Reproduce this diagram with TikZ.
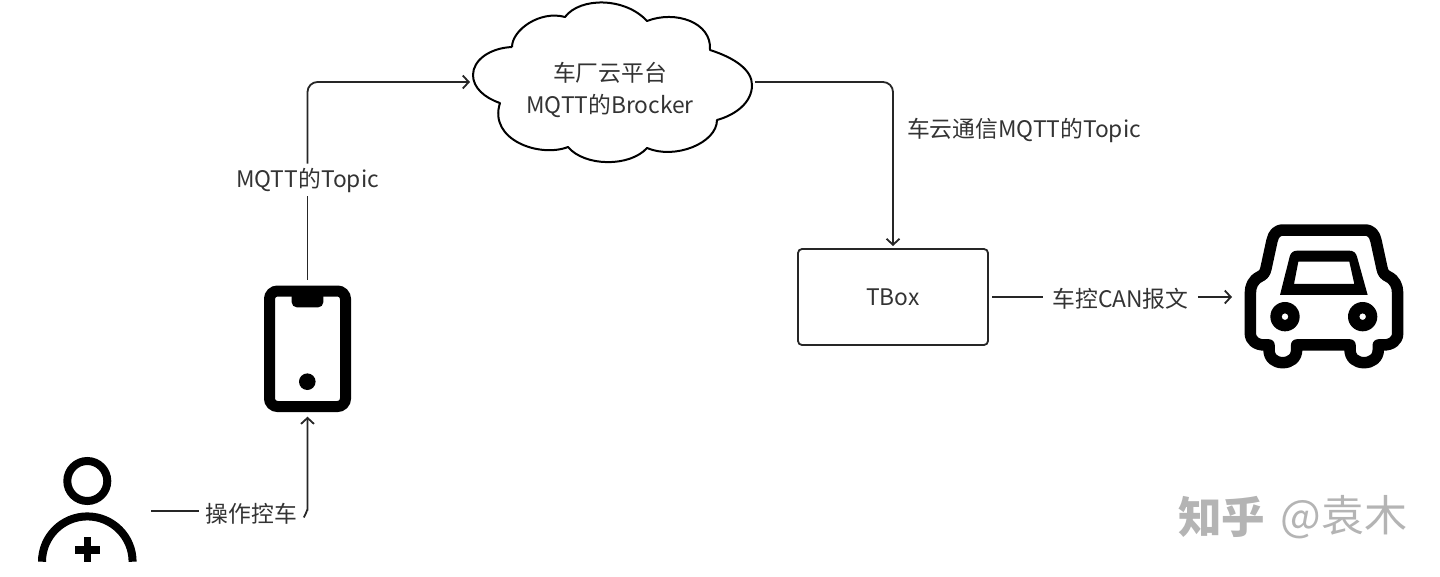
\documentclass[tikz,border=0pt]{standalone}
\usepackage{fontspec}
\setmainfont{Noto Sans CJK SC}
\usetikzlibrary{arrows.meta,calc}
\definecolor{txt}{HTML}{333333}
\definecolor{wm}{HTML}{B4B4B4}
\tikzset{
  conn/.style={draw=black!85,line width=1.8pt,rounded corners=10pt},
  tip/.style={-{Straight Barb[length=6pt,width=13pt,line width=1.8pt]}},
  lab/.style={text=txt,font=\fontsize{22.8}{32}\selectfont,inner sep=0pt,align=center},
  icon/.style={line width=#1,draw=black},
  box/.style={inner sep=0pt,outer sep=0pt}
}
\begin{document}
\begin{tikzpicture}[x=1pt,y=-1pt]
\useasboundingbox (0,0) rectangle (1440,576);
% anchor nodes
\node[box,minimum width=98pt,minimum height=100pt] (user) at (87,511.5) {};
\node[box,minimum width=87pt,minimum height=126pt] (phone) at (307.5,348.7) {};
\node[box,minimum width=160pt,minimum height=150pt] (car) at (1324,297) {};
\node[box,minimum width=279pt,minimum height=164pt] (cloud) at (612.5,82) {};
\node[lab] (cloudt) at (610,90) {车厂云平台\\[0pt]MQTT的Brocker};
\node[lab,draw=black!85,line width=1.8pt,rounded corners=4pt,outer sep=0pt,minimum width=190pt,minimum height=96pt] (tbox) at (893,297) {\raisebox{-3pt}{TBox}};
% labels
\node[lab,inner xsep=6.5pt] (l1) at (251.5,513.5) {操作控车};
\node[lab,inner ysep=4pt] (l2) at (307.5,180) {MQTT的Topic};
\node[lab] (l3) at (1024,130) {车云通信MQTT的Topic};
\node[lab,inner xsep=9pt] (l4) at (1120.5,298.5) {车控CAN报文};
% connectors
\draw[conn,shorten <=15pt] (user.east |- 0,511) -- (l1.west |- 0,511);
\draw[conn,tip] ($(l1.east)+(0,-4pt)$) to[out=60,in=-90] ($(phone.south |- l1.east)+(0,13pt)$) -- ($(phone.south)+(0,-5pt)$);
\draw[conn,shorten <=6pt] (phone.north) -- (l2.south);
\draw[conn,tip,shorten >=3pt] (l2.north) |- (cloud.west);
\draw[conn,tip,shorten <=3pt,shorten >=3pt] (cloud.east) -| (tbox.north);
\draw[conn,shorten <=4pt] (tbox.east) -- (l4.west |- tbox.east);
\draw[conn,tip,shorten >=12pt] (l4.east |- tbox.east) -- (car.west);
% cloud
\draw[black,line width=2pt,line join=round]
 (512,47) .. controls (512,30) and (540,10) .. (565,17)
 .. controls (580,-3) and (625,-3) .. (647,21)
 .. controls (675,10) and (712,22) .. (710,50)
 .. controls (735,58) and (752,70) .. (752,85)
 .. controls (752,103) and (735,115) .. (717,120)
 .. controls (717,143) and (675,160) .. (647,148)
 .. controls (630,167) and (585,167) .. (568,147)
 .. controls (540,158) and (488,140) .. (500,103)
 .. controls (485,98) and (473,88) .. (473,75)
 .. controls (473,60) and (490,48) .. (512,47);
% user icon
\draw[icon=8pt] (87.3,481) circle (20pt);
\draw[icon=8pt] (42,561.7) arc[start angle=180,end angle=0,radius=45.3pt];
\fill[black] (83.7,537) rectangle (91,561.7);
\fill[black] (75,546.4) rectangle (100,553.6);
% phone icon
\draw[icon=11pt,rounded corners=8pt] (269.5,291) rectangle (345.5,406.5);
\fill[black,rounded corners=5pt] (291.7,288) -- (291.7,307.3) -- (323.3,307.3) -- (323.3,288) -- cycle;
\fill[black] (307.3,381.7) circle (8.3pt);
% car icon
\begin{scope}[shift={(1220,210)},x=0.3333pt,y=-0.3333pt]
\draw[icon=11.5pt,line join=round]
 (191,60) -- (433,60) .. controls (455,60) and (463,72) .. (468,92)
 -- (486,175) .. controls (489,190) and (495,195) .. (505,200)
 .. controls (525,210) and (533,228) .. (533,250)
 -- (533,370) .. controls (533,392) and (515,405) .. (490,405)
 -- (475,405) -- (475,418) .. controls (475,445) and (455,458) .. (432,458)
 .. controls (409,458) and (390,445) .. (390,418)
 -- (390,405) -- (230,405) -- (230,418)
 .. controls (230,445) and (211,458) .. (188,458)
 .. controls (165,458) and (147,445) .. (147,418)
 -- (147,405) -- (134,405)
 .. controls (109,405) and (91,392) .. (91,370)
 -- (91,250) .. controls (91,228) and (99,210) .. (119,200)
 .. controls (129,195) and (135,190) .. (138,175)
 -- (156,92) .. controls (161,72) and (169,60) .. (191,60) -- cycle;
\fill[black,even odd rule]
 (180,255) -- (209,140) .. controls (212,128) and (220,122) .. (232,122)
 -- (388,122) .. controls (400,122) and (408,128) .. (411,140) -- (443,255) -- cycle
 (222,222) -- (403,222) -- (388,155) -- (235,155) -- cycle;
\fill[black,even odd rule] (195,320) circle (44) (195,320) circle (10);
\fill[black,even odd rule] (428,320) circle (44) (428,320) circle (10);
\end{scope}
% watermark
\node[box,text=wm,font=\fontsize{43.5}{48}\selectfont\bfseries] (wm1) at (1221.5,517) {知乎};
\node[box,text=wm,font=\fontsize{43}{48}\selectfont] (wm2) at (1344,517) {@袁木};
\end{tikzpicture}
\end{document}
